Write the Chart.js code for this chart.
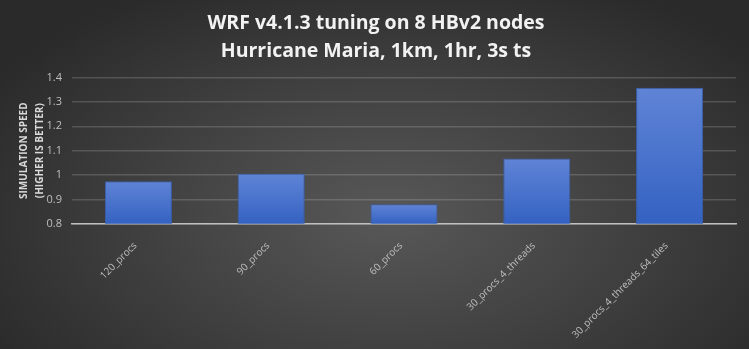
<!DOCTYPE html>
<html>
<head>
<meta charset="utf-8">
<script src="https://cdn.jsdelivr.net/npm/chart.js@4"></script>
<style>
  html, body { margin: 0; padding: 0; }
  body {
    width: 749px; height: 349px; overflow: hidden;
    background: radial-gradient(ellipse 62% 75% at 52% 62%, #585858 0%, #3f3f3f 55%, #2a2a2a 100%);
  }
  #wrap { position: relative; width: 749px; height: 349px; }
</style>
</head>
<body>
<div id="wrap"><canvas id="WrfChart"></canvas></div>
<script>
const Runs = ["120_procs", "90_procs", "60_procs", "30_procs_4_threads", "30_procs_4_threads_64_tiles"];
const Speed = [0.975, 1.005, 0.88, 1.068, 1.358];
const YTicks = ["0.8", "0.9", "1", "1.1", "1.2", "1.3", "1.4"];
const TitleLines = ["WRF v4.1.3 tuning on 8 HBv2 nodes", "Hurricane Maria, 1km, 1hr, 3s ts"];
const AxisTitle = ["SIMULATION SPEED", "(HIGHER IS BETTER)"];

// per-bar vertical gradient, lighter at the top
function barFill(context) {
  const chart = context.chart;
  const { ctx, chartArea, scales } = chart;
  if (!chartArea || context.raw == null) return "#4472c4";
  const top = scales.y.getPixelForValue(context.raw);
  const g = ctx.createLinearGradient(0, top, 0, chartArea.bottom);
  g.addColorStop(0, "#5f84d6");
  g.addColorStop(1, "#3462c2");
  return g;
}

const ctx = document.getElementById("WrfChart").getContext("2d");
new Chart(ctx, {
  type: "bar",
  data: {
    labels: Runs,
    datasets: [{
      data: Speed,
      backgroundColor: barFill,
      borderColor: "#3a5fae",
      borderWidth: 1,
      barPercentage: 0.505,
      categoryPercentage: 1,
    }],
  },
  options: {
    responsive: true,
    maintainAspectRatio: false,
    animation: false,
    layout: { autoPadding: false, padding: { left: 16, right: 13, top: 0, bottom: 0 } },
    plugins: {
      legend: { display: false },
      tooltip: { enabled: false },
      title: {
        display: true,
        text: TitleLines,
        color: "#f2f2f2",
        font: { family: "'Open Sans'", size: 19.5, weight: "bold", lineHeight: 1.4 },
        padding: { top: 10, bottom: 13 },
      },
    },
    scales: {
      y: {
        min: 0.8,
        max: 1.4,
        afterFit: (scale) => { scale.width = 56; }, // keep plot left edge where the original has it
        ticks: {
          stepSize: 0.1,
          color: "#bfbfbf",
          padding: 10,
          font: { family: "'Open Sans'", size: 11 },
          callback: (v, i) => YTicks[i],
        },
        grid: { color: "rgba(255,255,255,0.16)", lineWidth: 1.5, drawTicks: false },
        border: { display: false },
        title: {
          display: true,
          text: AxisTitle,
          color: "#d9d9d9",
          font: { family: "'Open Sans'", size: 10, weight: "bold", lineHeight: 1.6 },
          padding: { top: 0, bottom: 0 },
        },
      },
      x: {
        ticks: {
          color: "#bfbfbf",
          font: { family: "'Open Sans'", size: 10 },
          minRotation: 45,
          maxRotation: 45,
          autoSkip: false,
          padding: 8,
          labelOffset: -3,
        },
        grid: { display: false },
        border: { color: "#bfbfbf", width: 1.5 },
      },
    },
  },
});
</script>
</body>
</html>
